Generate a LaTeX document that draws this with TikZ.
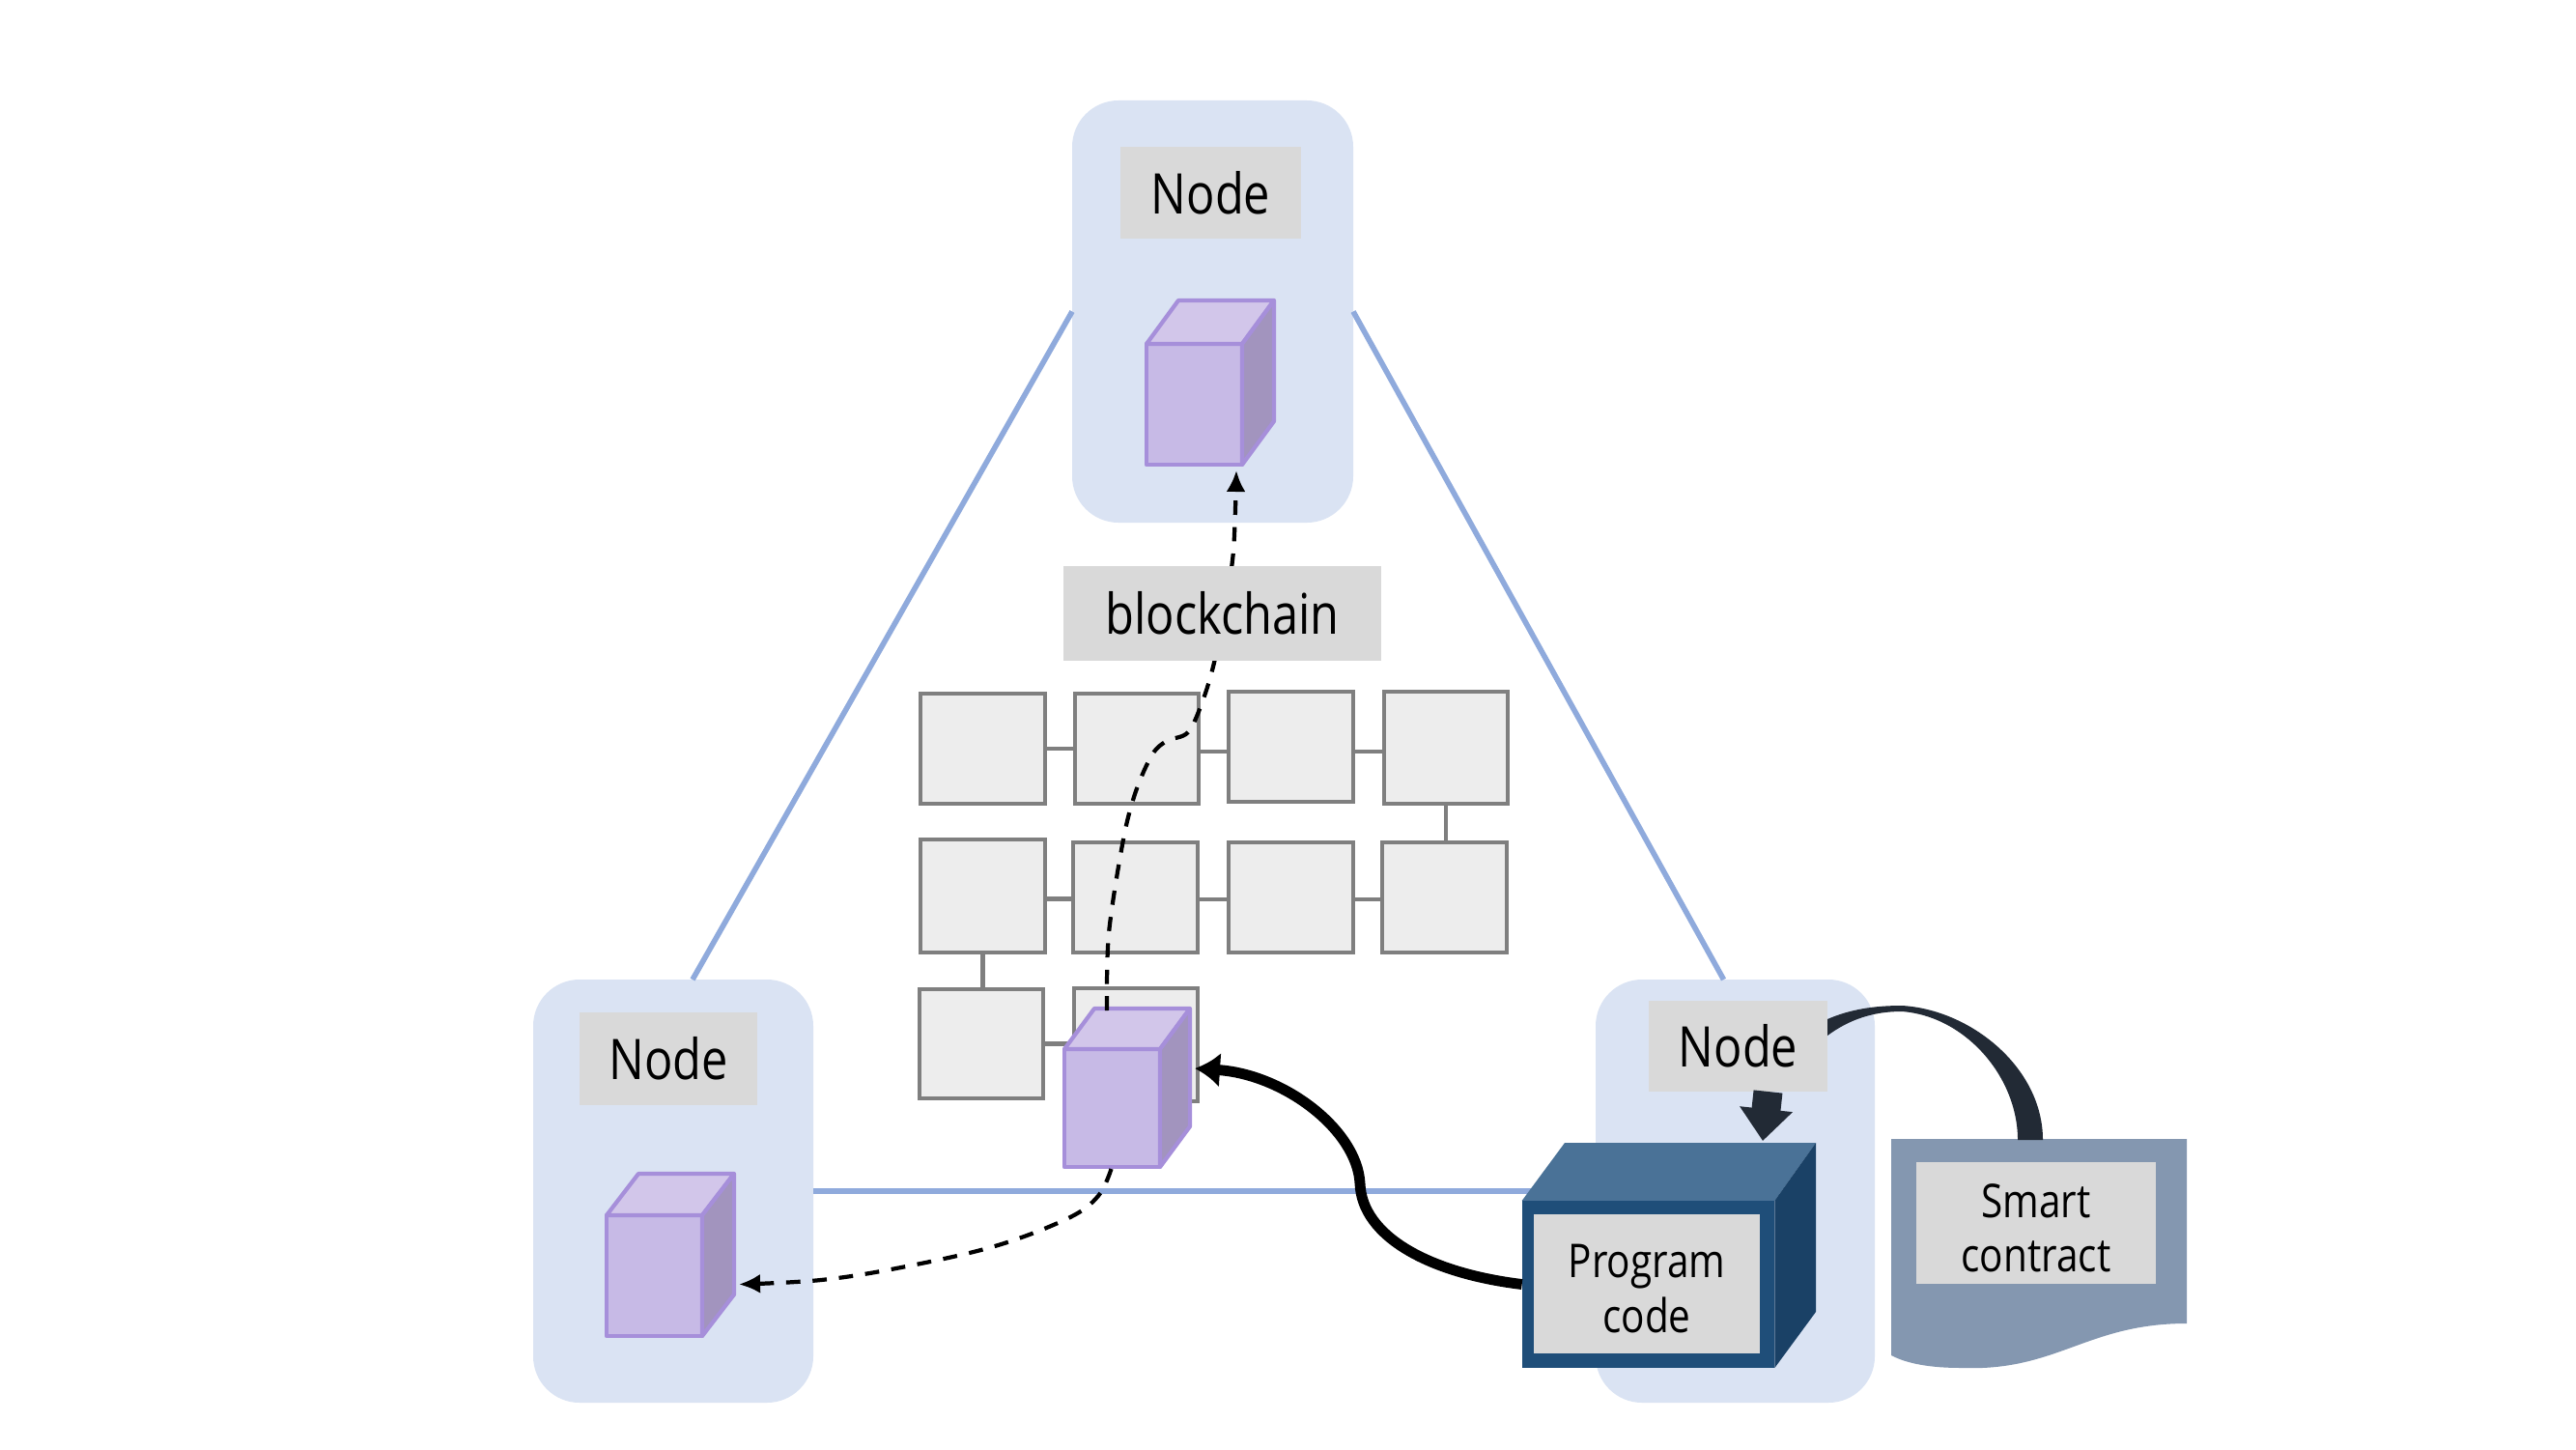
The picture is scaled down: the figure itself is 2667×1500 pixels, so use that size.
\documentclass[tikz,border=0pt]{standalone}
\usepackage{fontspec}
\setmainfont[FakeStretch=0.84]{Open Sans}
\usetikzlibrary{arrows.meta,calc}
\definecolor{blueline}{HTML}{8FAADC}
\definecolor{panel}{HTML}{DAE3F3}
\definecolor{labelgray}{HTML}{D9D9D9}
\definecolor{cellfill}{HTML}{EDEDED}
\definecolor{cellline}{HTML}{7F7F7F}
\definecolor{cubefront}{HTML}{C7BAE6}
\definecolor{cubetop}{HTML}{D2C6EA}
\definecolor{cubeside}{HTML}{A294BE}
\definecolor{cubeline}{HTML}{A68FDA}
\definecolor{pcfront}{HTML}{1F4E79}
\definecolor{pctop}{HTML}{4A7297}
\definecolor{pcside}{HTML}{1A4166}
\definecolor{docfill}{HTML}{8497B0}
\definecolor{darkink}{HTML}{222A35}
\tikzset{
  panelbox/.style={fill=panel,draw=none,rounded corners=0.48cm},
  labelbox/.style={fill=labelgray,draw=none,text=black},
  bigtext/.style={font=\fontsize{16.5}{20}\selectfont},
  smalltext/.style={font=\fontsize{13.7}{16.2}\selectfont},
  cellbox/.style={fill=cellfill,draw=cellline,line width=1.3pt},
  cellconn/.style={draw=cellline,line width=1.3pt},
  triline/.style={draw=blueline,line width=1.6pt},
  dashconn/.style={draw=black,line width=1.2pt,dash pattern=on 4.2pt off 3.6pt,
    -{Latex[length=0.22cm,width=0.2cm]}},
  cubepart/.style={draw=cubeline,line width=1.2pt,line join=round}
}
% general rectangle by its corners
\newcommand{\boxtext}{}
\newcommand{\cornerbox}[6]{%
  \node[inner sep=0pt,outer sep=0pt,#1,
    minimum width={(#4-#2)*0.01cm},minimum height={(#5-#3)*0.01cm}]
    (#6) at ({(#2+#4)/2},{(#3+#5)/2}) {\boxtext};}
% purple cube: name, x, y, w, h, dx, dy
\newcommand{\purplecube}[7]{%
  \node[fill=cubefront,cubepart,inner sep=0pt,outer sep=0pt,anchor=north west,
    minimum width={(#4-4)*0.01cm},minimum height={(#5-4)*0.01cm}] (#1) at (#2+2,#3+2) {};
  \draw[cubepart,fill=cubetop] (#1.north west) -- ++(#6,-#7) -- ++(#4-4,0) -- (#1.north east) -- cycle;
  \draw[cubepart,fill=cubeside] (#1.north east) -- ++(#6,-#7) -- ++(0,#5-4) -- (#1.south east) -- cycle;}
\begin{document}
\begin{tikzpicture}[x=0.01cm,y=-0.01cm]
\useasboundingbox[fill=white] (0,0) rectangle (2667,1500);

% panels
\cornerbox{panelbox}{1110}{104}{1401}{541}{panelT}
\cornerbox{panelbox}{552}{1014}{842}{1452}{panelL}
\cornerbox{panelbox}{1652}{1014}{1941}{1452}{panelR}

% triangle lines between the panels
\draw[triline] (panelT.west) -- ($(panelL.north)+(20,0)$);
\draw[triline] (panelT.east) -- ($(panelR.north)+(-12,0)$);
\draw[triline] (panelL.east) -- (panelR.west);

% grid
\cornerbox{cellbox}{953}{718}{1082}{832}{g11}
\cornerbox{cellbox}{1113}{718}{1241}{832}{g12}
\cornerbox{cellbox}{1272}{716}{1401}{830}{g13}
\cornerbox{cellbox}{1433}{716}{1561}{832}{g14}
\cornerbox{cellbox}{953}{869}{1082}{986}{g21}
\cornerbox{cellbox}{1111}{872}{1240}{986}{g22}
\cornerbox{cellbox}{1272}{872}{1401}{986}{g23}
\cornerbox{cellbox}{1431}{872}{1560}{986}{g24}
\cornerbox{cellbox}{952}{1024}{1080}{1137}{g31}
\cornerbox{cellbox}{1112}{1023}{1240}{1140}{g32}
\draw[cellconn] (g11.east) -- (g11.east -| g12.west);
\draw[cellconn] (g12.east) ++(0,3) coordinate (c12) -- (c12 -| g13.west);
\draw[cellconn] (g13.east) ++(0,5) coordinate (c13) -- (c13 -| g14.west);
\draw[cellconn] (g21.east) ++(0,3) coordinate (c21) -- (c21 -| g22.west);
\draw[cellconn] (g22.east) ++(0,2) coordinate (c22) -- (c22 -| g23.west);
\draw[cellconn] (g23.east) ++(0,2) coordinate (c23) -- (c23 -| g24.west);
\draw[cellconn] (g14.south) -- (g14.south |- g24.north);
\draw[cellconn] (g21.south) -- (g21.south |- g31.north);

% cubes
\purplecube{cubeT}{1185}{354}{103}{129}{33}{45}
\purplecube{cubeL}{626}{1256}{103}{129}{33}{43}
\draw[cellconn] (g31.east) -- ++(25,0);
\purplecube{cubeM}{1100}{1084}{103}{126}{31}{42}

% dashed arrows
\coordinate (upStart) at ($(cubeM.north)+(-5.5,-40)$);
\coordinate (upEnd) at ($(cubeT.south east)+(-6,6)$);
\coordinate (lowStart) at ($(cubeM.south)+(-1,2)$);
\coordinate (lowEnd) at ($(cubeL.east)+(38,9)$);
\draw[dashconn] plot[smooth,tension=0.55] coordinates {(upStart) (1148,966) (1163,869) (1176,819) (1193,781) (1208,767) (1230,758) (1245,726) (1257,686) (1268,630) (1277,570) (upEnd)};
\draw[dashconn] plot[smooth,tension=0.6] coordinates {(lowStart) (1137,1238) (1106,1261) (1030,1290) (933,1312) (850,1325) (lowEnd)};

% labels
\renewcommand{\boxtext}{Node}
\cornerbox{labelbox,bigtext}{1160}{152}{1347}{247}{nodeT}
\cornerbox{labelbox,bigtext}{600}{1048}{784}{1144}{nodeL}
\cornerbox{labelbox,bigtext}{1707}{1036}{1892}{1130}{nodeR}
\renewcommand{\boxtext}{blockchain}
\cornerbox{labelbox,bigtext}{1101}{586}{1430}{684}{chain}

% program code box
\node[fill=pcfront,inner sep=0pt,outer sep=0pt,minimum width=2.615cm,minimum height=1.73cm] (pcF) at (1706.5,1329.5) {};
\fill[pctop] (pcF.north west) -- (1620,1183) -- (1880,1183) -- (pcF.north east) -- cycle;
\fill[pcside] (pcF.north east) -- (1880,1183) -- (1880,1358) -- (pcF.south east) -- cycle;
\renewcommand{\boxtext}{\parbox{2cm}{\vspace*{3pt}\centering Program\\code}}
\cornerbox{labelbox,smalltext}{1588}{1257}{1822}{1401}{pcL}

% smart contract document
\fill[docfill] (1958,1179) -- (2264,1179) -- (2264,1370)
  .. controls (2160,1370) and (2130,1420) .. (2030,1416)
  .. controls (2000,1416) and (1975,1412) .. (1958,1403) -- cycle;
\coordinate (docTop) at (2102,1180);
\renewcommand{\boxtext}{\parbox{2cm}{\vspace*{3pt}\centering Smart\\contract}}
\cornerbox{labelbox,smalltext}{1984}{1203}{2232}{1329}{docL}

% connectors at the program code box
\coordinate (blackEnd) at ($(cubeM.east)+(36,-41)$);
\draw[black,line width=3.1pt,-{Latex[length=0.26cm,width=0.36cm]}]
  (pcF.west) .. controls (1480,1318) and (1410,1280) .. (1408,1225)
  .. controls (1405,1170) and (1330,1112) .. (blackEnd);
\draw[darkink,line width=0.3cm,-{Triangle[length=0.33cm,width=0.53cm]}]
  ($(nodeR.south)+(31,0)$) -- (1825,1181);
\fill[darkink] ($(nodeR.east)+(0,-28)$)
  .. controls (1915,1045) and (1940,1041) .. (1969,1041)
  .. controls (2040,1045) and (2115,1105) .. ($(docTop)+(13,0)$)
  -- ($(docTop)+(-13,0)$)
  .. controls (2089,1115) and (2035,1052) .. (1969,1047)
  .. controls (1940,1047) and (1915,1055) .. ($(nodeR.east)+(0,-11)$) -- cycle;
\end{tikzpicture}
\end{document}
